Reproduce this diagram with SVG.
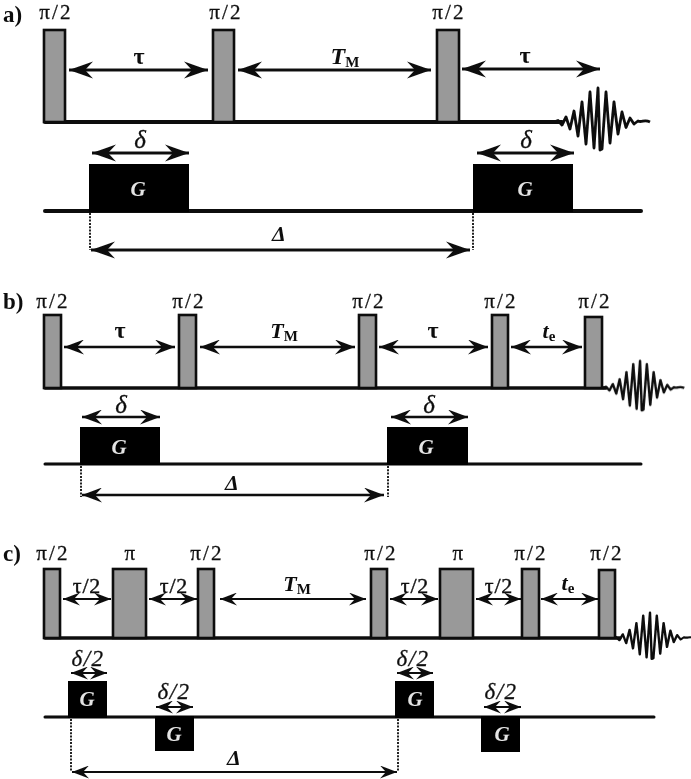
<svg xmlns="http://www.w3.org/2000/svg" xmlns:xlink="http://www.w3.org/1999/xlink" width="691" height="779" viewBox="0 0 691 779">
<style>
text{font-family:"Liberation Serif","Times New Roman",serif;fill:#111;text-anchor:middle}
.p{font-size:21px;letter-spacing:2.2px;stroke:#111;stroke-width:.3px}
.l{font-size:23px;font-weight:bold;text-anchor:start}
.t{font-size:24px;font-weight:bold}
.tc{font-size:22px;stroke:#111;stroke-width:.4px;letter-spacing:.8px}
.tm{font-size:24px;font-weight:bold;font-style:italic}
.tm2{font-size:22px;font-weight:bold;font-style:italic}
.sub{font-size:15px;font-style:normal}
.d{font-size:25px;font-style:italic;stroke:#111;stroke-width:.3px}
.dc{font-size:23px;font-style:italic;letter-spacing:1.5px;stroke:#111;stroke-width:.3px}
.D{font-size:22px;font-weight:bold;font-style:italic}
.G{font-size:21px;font-weight:bold;font-style:italic;fill:#e4e4e4}
.pulse{fill:#999;stroke:#111;stroke-width:2.6}
.block{fill:#050505}
.base{stroke:#0a0a0a;fill:none;stroke-linecap:round}
.fid{fill:none;stroke:#0a0a0a;stroke-width:2.8;stroke-linejoin:round}
.arr{stroke:#111;fill:none}
.A{stroke-width:3;marker-start:url(#ha);marker-end:url(#ha)}
.B{stroke-width:2.4;marker-start:url(#hb);marker-end:url(#hb)}
.C{stroke-width:2.2;marker-start:url(#hc);marker-end:url(#hc)}
.dot{stroke:#222;stroke-width:2;stroke-dasharray:2 1.3;fill:none}
</style>
<defs>
<filter id="soft" filterUnits="userSpaceOnUse" x="0" y="0" width="691" height="779"><feGaussianBlur stdDeviation="0.45"/></filter>
<marker id="ha" markerUnits="userSpaceOnUse" markerWidth="26" markerHeight="18" refX="25" refY="8.5" orient="auto-start-reverse" viewBox="0 0 26 17"><path d="M25,8.5 L1,0 L9,8.5 L1,17Z" fill="#111"/></marker>
<marker id="hb" markerUnits="userSpaceOnUse" markerWidth="22" markerHeight="15" refX="21" refY="7.5" orient="auto-start-reverse" viewBox="0 0 22 15"><path d="M21,7.5 L1,0 L8,7.5 L1,15Z" fill="#111"/></marker>
<marker id="hc" markerUnits="userSpaceOnUse" markerWidth="19" markerHeight="13" refX="18" refY="6.5" orient="auto-start-reverse" viewBox="0 0 19 13"><path d="M18,6.5 L1,0 L7,6.5 L1,13Z" fill="#111"/></marker>
<path id="wave" class="fid" d="M-44,0 L-40,-1.5 -36,3 -32,-5 -28,7 -24,-11 -20,14 -16,-20 -12,22 -8,-30 -4,26 0,-34 2,28 4,27 8,-30 12,21 16,-20 20,12 24,-10 28,5.5 32,-4 36,2 40,-1 C44,1 46,-3 52,0"/>
</defs>

<g filter="url(#soft)">
<g id="labels">
<text class="l" x="3" y="22">a)</text>
<text class="l" x="3" y="309">b)</text>
<text class="l" x="3" y="561">c)</text>
</g>

<g id="connectors">
<path class="arr A" d="M69,70H208"/>
<path class="arr A" d="M238,70H431"/>
<path class="arr A" d="M462,69H600"/>
<path class="arr A" d="M92,153H189"/>
<path class="arr A" d="M477,153H574"/>
<path class="arr A" d="M91,250H470"/>
<path class="dot" d="M90,213V250"/>
<path class="dot" d="M473,213V250"/>

<path class="arr B" d="M64,347H175"/>
<path class="arr B" d="M200,347H355"/>
<path class="arr B" d="M379,347H488"/>
<path class="arr B" d="M511,347H582"/>
<path class="arr B" d="M82,417H160"/>
<path class="arr B" d="M391,417H468"/>
<path class="arr B" d="M82,495H384"/>
<path class="dot" d="M81,466V497"/>
<path class="dot" d="M388,466V497"/>

<path class="arr C" d="M63,599H111"/>
<path class="arr C" d="M149,599H197"/>
<path class="arr C" d="M220,599H366"/>
<path class="arr C" d="M390,599H438"/>
<path class="arr C" d="M476,599H521"/>
<path class="arr C" d="M541,599H598"/>
<path class="arr C" d="M71,673H107"/>
<path class="arr C" d="M156,707H193"/>
<path class="arr C" d="M397,673H433"/>
<path class="arr C" d="M484,707H521"/>
<path class="arr C" d="M72,772H397"/>
<path class="dot" d="M71,719V771"/>
<path class="dot" d="M398,719V771"/>
</g>

<g id="panel-a-rf">
<path class="base" stroke-width="4" d="M45,122H562"/>
<use id="fid-a" xlink:href="#wave" href="#wave" transform="translate(598,122)"/>
<g id="a-p1"><rect class="pulse" x="44" y="30" width="21" height="92"/><text class="p" x="56" y="19">π/2</text></g>
<g id="a-p2"><rect class="pulse" x="213" y="30" width="21" height="92"/><text class="p" x="226" y="19">π/2</text></g>
<g id="a-p3"><rect class="pulse" x="437" y="30" width="22" height="92"/><text class="p" x="449" y="19">π/2</text></g>
<text class="t" x="139" y="64">τ</text>
<text class="tm" x="345" y="64">T<tspan class="sub" dy="3">M</tspan></text>
<text class="t" x="525" y="63">τ</text>
</g>
<g id="panel-a-grad">
<path class="base" stroke-width="4" d="M45,211H641"/>
<g id="a-g1"><rect class="block" x="89" y="164" width="100" height="48"/><text class="G" x="138" y="196">G</text></g>
<g id="a-g2"><rect class="block" x="473" y="164" width="100" height="48"/><text class="G" x="525" y="196">G</text></g>
<text class="d" x="140" y="148">δ</text>
<text class="d" x="526" y="148">δ</text>
<text class="D" x="279" y="241">Δ</text>
</g>

<g id="panel-b-rf">
<path class="base" stroke-width="3.4" d="M45,388H606"/>
<use id="fid-b" xlink:href="#wave" href="#wave" transform="translate(640,388) scale(.85,.8)"/>
<g id="b-p1"><rect class="pulse" x="44" y="315" width="17" height="73"/><text class="p" x="53" y="308">π/2</text></g>
<g id="b-p2"><rect class="pulse" x="179" y="315" width="17" height="73"/><text class="p" x="189" y="308">π/2</text></g>
<g id="b-p3"><rect class="pulse" x="359" y="315" width="17" height="73"/><text class="p" x="369" y="308">π/2</text></g>
<g id="b-p4"><rect class="pulse" x="492" y="315" width="16" height="73"/><text class="p" x="501" y="308">π/2</text></g>
<g id="b-p5"><rect class="pulse" x="585" y="317" width="17" height="71"/><text class="p" x="595" y="308">π/2</text></g>
<text class="t" x="120" y="338">τ</text>
<text class="tm2" x="284" y="338">T<tspan class="sub" dy="3">M</tspan></text>
<text class="t" x="433" y="338">τ</text>
<text class="tm2" x="549" y="338">t<tspan class="sub" dy="3">e</tspan></text>
</g>
<g id="panel-b-grad">
<path class="base" stroke-width="3" d="M45,464H641"/>
<g id="b-g1"><rect class="block" x="80" y="427" width="80" height="38"/><text class="G" x="119" y="454">G</text></g>
<g id="b-g2"><rect class="block" x="387" y="427" width="81" height="38"/><text class="G" x="426" y="454">G</text></g>
<text class="d" x="121" y="413">δ</text>
<text class="d" x="429" y="413">δ</text>
<text class="D" x="232" y="490">Δ</text>
</g>

<g id="panel-c-rf">
<path class="base" stroke-width="3.4" d="M45,638H620"/>
<use id="fid-c" xlink:href="#wave" href="#wave" transform="translate(650,638) scale(.85,.75)"/>
<g id="c-p1"><rect class="pulse" x="44" y="569" width="16" height="69"/><text class="p" x="53" y="560">π/2</text></g>
<g id="c-p2"><rect class="pulse" x="113" y="569" width="33" height="69"/><text class="p" x="131" y="560">π</text></g>
<g id="c-p3"><rect class="pulse" x="198" y="569" width="16" height="69"/><text class="p" x="207" y="560">π/2</text></g>
<g id="c-p4"><rect class="pulse" x="371" y="569" width="16" height="69"/><text class="p" x="381" y="560">π/2</text></g>
<g id="c-p5"><rect class="pulse" x="440" y="569" width="33" height="69"/><text class="p" x="459" y="560">π</text></g>
<g id="c-p6"><rect class="pulse" x="522" y="569" width="17" height="69"/><text class="p" x="531" y="560">π/2</text></g>
<g id="c-p7"><rect class="pulse" x="599" y="570" width="16" height="68"/><text class="p" x="607" y="560">π/2</text></g>
<text class="tc" x="87" y="593">τ/2</text>
<text class="tc" x="174" y="593">τ/2</text>
<text class="tm2" x="297" y="591">T<tspan class="sub" dy="3">M</tspan></text>
<text class="tc" x="415" y="593">τ/2</text>
<text class="tc" x="499" y="593">τ/2</text>
<text class="tm2" x="568" y="590">t<tspan class="sub" dy="3">e</tspan></text>
</g>
<g id="panel-c-grad">
<path class="base" stroke-width="3" d="M45,717H654"/>
<g id="c-g1"><rect class="block" x="68" y="681" width="39" height="37"/><text class="G" x="87" y="706">G</text></g>
<g id="c-g2"><rect class="block" x="155" y="716" width="39" height="35"/><text class="G" x="174" y="741">G</text></g>
<g id="c-g3"><rect class="block" x="395" y="681" width="39" height="37"/><text class="G" x="415" y="706">G</text></g>
<g id="c-g4"><rect class="block" x="481" y="716" width="39" height="36"/><text class="G" x="502" y="741">G</text></g>
<text class="dc" x="88" y="666">δ/2</text>
<text class="dc" x="174" y="699">δ/2</text>
<text class="dc" x="413" y="666">δ/2</text>
<text class="dc" x="501" y="699">δ/2</text>
<text class="D" x="234" y="765">Δ</text>
</g>
</g>
</svg>
